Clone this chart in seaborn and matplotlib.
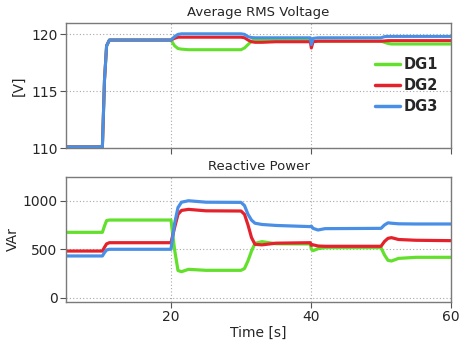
import matplotlib
matplotlib.use("Agg")
import matplotlib.pyplot as plt
import seaborn as sns
import pandas as pd

# --- data ---
time_s = [5, 10.2, 10.5, 10.8, 11.2, 20, 20.5, 21, 21.5, 22.5, 25, 30, 30.5, 31, 31.5,
          32, 33, 35, 39.9, 40.05, 40.3, 41, 42, 50, 50.5, 51, 51.5, 52.5, 55, 60]

volt_dg1 = [110.1, 110.1, 116.0, 119.0, 119.5, 119.5, 119.0, 118.75, 118.7, 118.65, 118.65, 118.65,
            118.8, 119.1, 119.4, 119.55, 119.55, 119.55, 119.5, 119.4, 119.4, 119.4, 119.4, 119.4,
            119.3, 119.2, 119.15, 119.15, 119.15, 119.15]
volt_dg2 = [110.1, 110.1, 116.0, 119.0, 119.5, 119.5, 119.65, 119.75, 119.75, 119.75, 119.75, 119.75,
            119.7, 119.5, 119.35, 119.3, 119.3, 119.35, 119.35, 118.8, 119.35, 119.4, 119.4, 119.4,
            119.42, 119.45, 119.45, 119.45, 119.45, 119.45]
volt_dg3 = [110.1, 110.1, 116.0, 119.0, 119.5, 119.5, 119.8, 120.0, 120.05, 120.05, 120.05, 120.05,
            120.0, 119.8, 119.72, 119.7, 119.7, 119.7, 119.7, 119.1, 119.65, 119.7, 119.7, 119.7,
            119.8, 119.82, 119.82, 119.82, 119.82, 119.82]

var_dg1 = [674, 674, 740, 795, 801, 801, 500, 280, 268, 292, 282, 282, 300, 380, 480,
           560, 578, 556, 554, 500, 485, 505, 516, 516, 440, 385, 378, 405, 416, 416]
var_dg2 = [481, 481, 520, 555, 567, 567, 720, 860, 900, 911, 896, 894, 860, 750, 620,
           550, 545, 562, 567, 540, 545, 533, 530, 530, 580, 612, 619, 600, 592, 588]
var_dg3 = [430, 430, 465, 492, 499, 499, 760, 930, 985, 1000, 985, 983, 950, 860, 800,
           768, 755, 745, 733, 738, 715, 698, 712, 715, 750, 772, 768, 762, 760, 760]

series_names = ["DG1", "DG2", "DG3"]
colors = {"DG1": "#62e02c", "DG2": "#e5222c", "DG3": "#4a8fe6"}

volt_df = pd.concat([pd.DataFrame({"t": time_s, "v": v, "s": n})
                     for n, v in zip(series_names, [volt_dg1, volt_dg2, volt_dg3])])
var_df = pd.concat([pd.DataFrame({"t": time_s, "v": v, "s": n})
                    for n, v in zip(series_names, [var_dg1, var_dg2, var_dg3])])

sns.set_style("white")
plt.rcParams["font.family"] = ["DejaVu Sans"]

W, H = 474, 345
fig = plt.figure(figsize=(W / 100, H / 100), dpi=100)
ax1 = fig.add_axes([66 / W, 1 - 148 / H, 385 / W, 125 / H])
ax2 = fig.add_axes([66 / W, 1 - 302 / H, 385 / W, 125 / H])

sns.lineplot(data=volt_df, x="t", y="v", hue="s", palette=colors, ax=ax1,
             linewidth=2.2, estimator=None, sort=False)
sns.lineplot(data=var_df, x="t", y="v", hue="s", palette=colors, ax=ax2,
             linewidth=2.3, estimator=None, sort=False, legend=False)

for ax in (ax1, ax2):
    ax.set_xlim(5, 60)
    ax.set_xticks([20, 40, 60])
    ax.grid(True, linestyle=(0, (1, 2)), color="#a8a8a8", linewidth=0.8)
    for sp in ax.spines.values():
        sp.set_color("#7a7a7a")
        sp.set_linewidth(1.0)
    ax.tick_params(axis="both", direction="out", length=4, width=0.8,
                   color="#555555", labelsize=10, pad=2, bottom=True, left=True)

ax1.set_ylim(110, 121)
ax1.set_yticks([110, 115, 120])
ax1.set_xticklabels([])
ax1.set_xlabel("")
ax1.set_ylabel("[V]", fontsize=10, labelpad=4)
ax1.set_title("Average RMS Voltage", fontsize=9.5, pad=5)

ax2.set_ylim(-45, 1245)
ax2.set_yticks([0, 500, 1000])
ax2.set_xlabel("Time [s]", fontsize=10, labelpad=1)
ax2.set_ylabel("VAr", fontsize=10, labelpad=2)
ax2.set_title("Reactive Power", fontsize=9.5, pad=5)

leg = ax1.legend(loc="center right", bbox_to_anchor=(1.0, 0.5), frameon=False,
                 handlelength=1.75, handletextpad=0.2, labelspacing=0.4,
                 prop={"weight": "bold", "size": 10.5})
for line in leg.get_lines():
    line.set_linewidth(2.5)

fig.savefig("out.png", dpi=100)
